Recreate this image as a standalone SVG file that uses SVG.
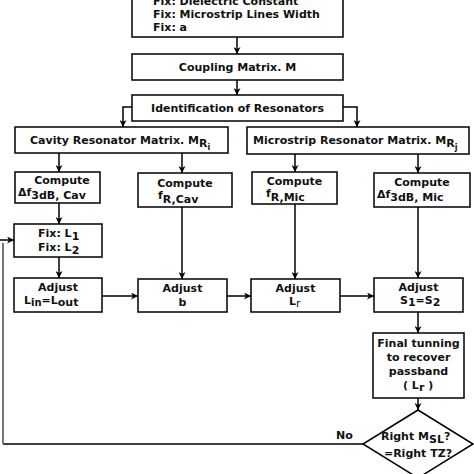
<svg xmlns="http://www.w3.org/2000/svg" width="474" height="474" viewBox="0 0 474 474">
<defs>
<marker id="ah" viewBox="0 0 10 10" refX="10" refY="5" markerWidth="7" markerHeight="7" markerUnits="userSpaceOnUse" orient="auto">
<path d="M0,0 L10,5 L0,10 L3,5 Z" fill="#000"/>
</marker>
<style>
.b{fill:#fff;stroke:#000;stroke-width:1.5}
.t{font-family:"DejaVu Sans",Verdana,sans-serif;font-weight:bold;font-size:11px;fill:#111;text-anchor:middle}
.tl{font-family:"DejaVu Sans",Verdana,sans-serif;font-weight:bold;font-size:11px;fill:#111}
.c{fill:none;stroke:#000;stroke-width:1.5}
.a{marker-end:url(#ah)}
</style>
</defs>
<rect width="474" height="474" fill="#fff"/>
<g id="connectors">
<path class="c a" d="M237,37 V54"/>
<path class="c a" d="M237,80 V95"/>
<path class="c a" d="M132,107 H123 V127"/>
<path class="c a" d="M343,107 H357 V127"/>
<path class="c a" d="M59,153 V172"/>
<path class="c a" d="M182,153 V173"/>
<path class="c a" d="M295,154 V172"/>
<path class="c a" d="M418,154 V173"/>
<path class="c a" d="M59,203 V224"/>
<path class="c a" d="M182,207 V279"/>
<path class="c a" d="M295,204 V279"/>
<path class="c a" d="M418,207 V278"/>
<path class="c a" d="M59,257 V278"/>
<path class="c a" d="M102,296 H138"/>
<path class="c a" d="M227,296 H251"/>
<path class="c a" d="M340,296 H374"/>
<path class="c a" d="M418,312 V333"/>
<path class="c a" d="M418,398 V410"/>
<path class="c" d="M363,444 H3"/>
<path d="M3,444 V243" fill="none" stroke="#777" stroke-width="2"/>
<path class="c a" d="M0,240 H14"/>
</g>
<g id="n-top">
<rect class="b" x="132" y="-12" width="211" height="49"/>
<text class="tl" x="153" y="5">Fix: Dielectric Constant</text>
<text class="tl" x="153" y="18">Fix: Microstrip Lines Width</text>
<text class="tl" x="153" y="31">Fix: a</text>
</g>
<g id="n-coupling">
<rect class="b" x="132" y="54" width="211" height="26"/>
<text class="t" x="237.5" y="71">Coupling Matrix. M</text>
</g>
<g id="n-ident">
<rect class="b" x="132" y="95" width="211" height="26"/>
<text class="t" x="237.5" y="112">Identification of Resonators</text>
</g>
<g id="n-cavity">
<rect class="b" x="15" y="127" width="213" height="26"/>
<text class="tl" x="30" y="144">Cavity Resonator Matrix. M<tspan dy="3">R</tspan><tspan dy="3" font-size="8">i</tspan></text>
</g>
<g id="n-micro">
<rect class="b" x="247" y="127" width="222" height="27"/>
<text class="tl" x="253" y="144">Microstrip Resonator Matrix. M<tspan dy="3">R</tspan><tspan dy="3" font-size="8">j</tspan></text>
</g>
<g id="n-dfcav">
<rect class="b" x="15" y="172" width="85" height="31"/>
<text class="t" x="62" y="184">Compute</text>
<text class="tl" x="18" y="196">Δf<tspan dy="3">3dB, Cav</tspan></text>
</g>
<g id="n-frcav">
<rect class="b" x="138" y="173" width="94" height="34"/>
<text class="t" x="185" y="187">Compute</text>
<text class="tl" x="158" y="199" font-size="10">f<tspan dy="4" font-size="11">R,Cav</tspan></text>
</g>
<g id="n-frmic">
<rect class="b" x="252" y="172" width="85" height="32"/>
<text class="t" x="294.5" y="185">Compute</text>
<text class="tl" x="266" y="197" font-size="10">f<tspan dy="4" font-size="11">R,Mic</tspan></text>
</g>
<g id="n-dfmic">
<rect class="b" x="374" y="173" width="96" height="34"/>
<text class="t" x="422" y="186">Compute</text>
<text class="tl" x="377" y="198">Δf<tspan dy="3">3dB, Mic</tspan></text>
</g>
<g id="n-fixl">
<rect class="b" x="14" y="224" width="88" height="33"/>
<text class="tl" x="38" y="237">Fix: L<tspan dy="3">1</tspan></text>
<text class="tl" x="38" y="251">Fix: L<tspan dy="3">2</tspan></text>
</g>
<g id="n-adjlin">
<rect class="b" x="14" y="278" width="88" height="34"/>
<text class="t" x="58" y="291">Adjust</text>
<text class="tl" x="24" y="304">L<tspan dy="2" font-size="10">in</tspan><tspan dy="-2">=L</tspan><tspan dy="2">out</tspan></text>
</g>
<g id="n-adjb">
<rect class="b" x="138" y="279" width="89" height="33"/>
<text class="t" x="182.5" y="292">Adjust</text>
<text class="t" x="182.5" y="306">b</text>
</g>
<g id="n-adjlr">
<rect class="b" x="251" y="279" width="89" height="33"/>
<text class="t" x="295.5" y="292">Adjust</text>
<text class="tl" x="289" y="305">L<tspan dy="2" font-weight="normal">r</tspan></text>
</g>
<g id="n-adjs">
<rect class="b" x="374" y="278" width="89" height="34"/>
<text class="t" x="418.5" y="291">Adjust</text>
<text class="tl" x="400" y="304">S<tspan dy="2">1</tspan><tspan dy="-2">=S</tspan><tspan dy="2">2</tspan></text>
</g>
<g id="n-final">
<rect class="b" x="373" y="333" width="91" height="65"/>
<text class="t" x="418.5" y="347">Final tunning</text>
<text class="t" x="418.5" y="361">to recover</text>
<text class="t" x="418.5" y="375">passband</text>
<text class="tl" x="403" y="389">( L<tspan dy="2">r</tspan><tspan dy="-2"> )</tspan></text>
</g>
<g id="n-decision">
<path class="b" d="M418,410 L473,444 L418,478 L363,444 Z"/>
<text class="tl" x="381" y="440">Right M<tspan dy="3">SL</tspan><tspan dy="-3">?</tspan></text>
<text class="t" x="418" y="457">=Right TZ?</text>
<text class="tl" x="336" y="439">No</text>
</g>
</svg>
